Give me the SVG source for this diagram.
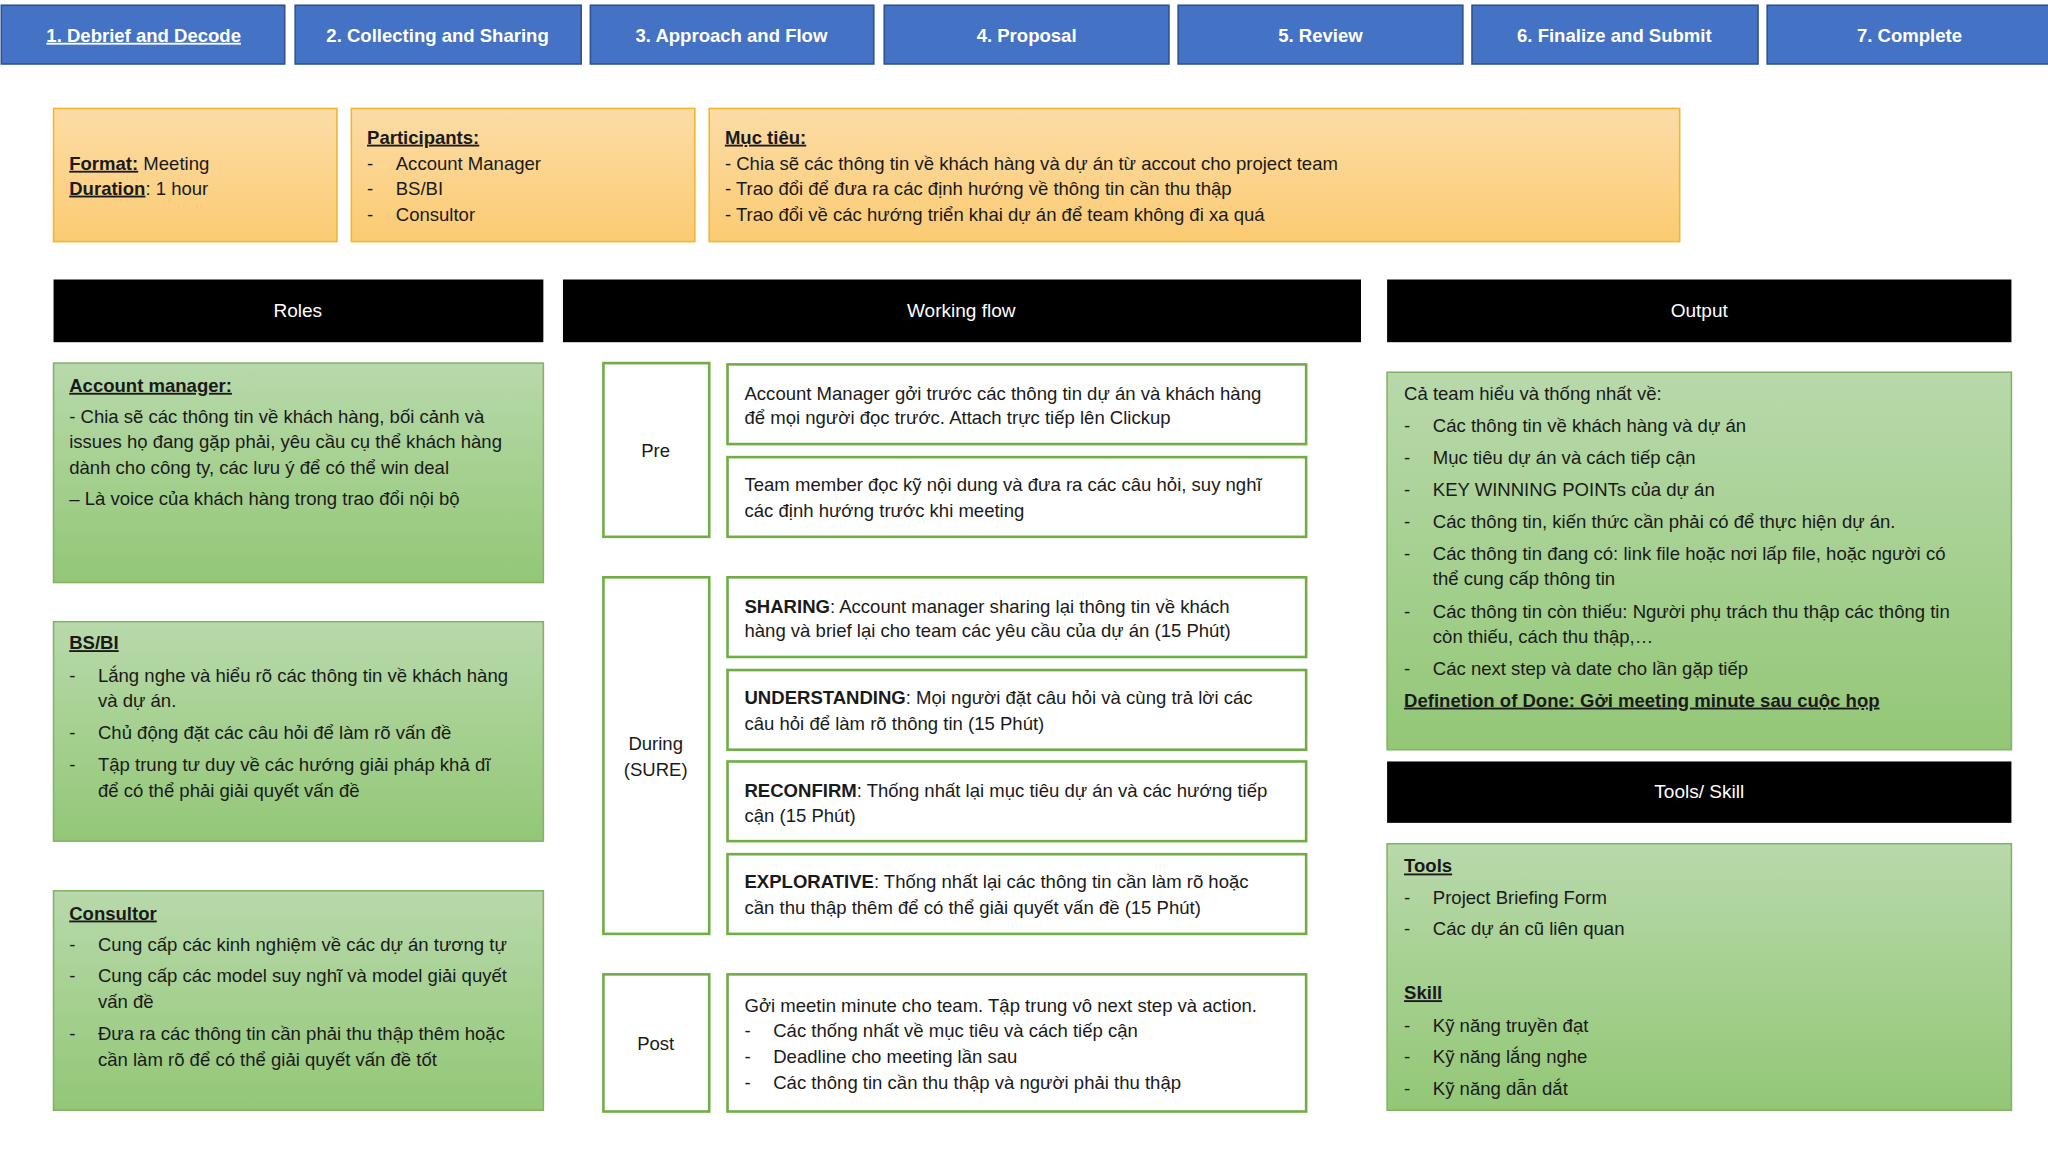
<svg xmlns="http://www.w3.org/2000/svg" width="2048" height="1152" viewBox="0 0 2048 1152">
<defs>
<linearGradient id="gg" x1="0" y1="0" x2="0" y2="1"><stop offset="0" stop-color="#b8d9ab"/><stop offset="1" stop-color="#93c776"/></linearGradient>
<linearGradient id="og" x1="0" y1="0" x2="0" y2="1"><stop offset="0" stop-color="#fcdca6"/><stop offset="1" stop-color="#fbcb72"/></linearGradient>
<style>
text{font-family:"Liberation Sans",Arial,sans-serif;font-size:14.2px;fill:#1a1a1a}
.tab rect{fill:#4472c4;stroke:#2f528f;stroke-width:1.2}
.tab text{fill:#fff;font-weight:bold;font-size:14.2px;text-anchor:middle}
.hd rect{fill:#000}
.hd text{fill:#fff;text-anchor:middle;font-size:14.6px}
.gr{fill:url(#gg);stroke:#82b366;stroke-width:1.2}
.or{fill:url(#og);stroke:#f2b530;stroke-width:1.2}
.wf{fill:#fff;stroke:#70ad47;stroke-width:2}
.b{font-weight:bold}
.u{text-decoration:underline}
.c{text-anchor:middle}
</style>
</defs>
<rect width="2048" height="1152" fill="#fff"/>
<g transform="scale(1.30612)">
<g id="tabs">
<g class="tab" id="tab1"><rect x="1" y="4" width="217" height="45"/><text x="110" y="32" class="u">1. Debrief and Decode</text></g>
<g class="tab" id="tab2"><rect x="226" y="4" width="219" height="45"/><text x="335" y="32">2. Collecting and Sharing</text></g>
<g class="tab" id="tab3"><rect x="452" y="4" width="217" height="45"/><text x="560" y="32">3. Approach and Flow</text></g>
<g class="tab" id="tab4"><rect x="677" y="4" width="218" height="45"/><text x="786" y="32">4. Proposal</text></g>
<g class="tab" id="tab5"><rect x="902" y="4" width="218" height="45"/><text x="1011" y="32">5. Review</text></g>
<g class="tab" id="tab6"><rect x="1127" y="4" width="219" height="45"/><text x="1236" y="32">6. Finalize and Submit</text></g>
<g class="tab" id="tab7"><rect x="1353" y="4" width="216" height="45"/><text x="1462" y="32">7. Complete</text></g>
</g>
<g id="format"><rect class="or" x="41" y="83" width="217" height="102"/>
<text x="53" y="130"><tspan class="b u">Format:</tspan> Meeting</text>
<text x="53" y="149"><tspan class="b u">Duration</tspan>: 1 hour</text></g>
<g id="participants"><rect class="or" x="269" y="83" width="263" height="102"/>
<text x="281" y="110" class="b u">Participants:</text>
<text x="281" y="130">-</text><text x="303" y="130">Account Manager</text>
<text x="281" y="149">-</text><text x="303" y="149">BS/BI</text>
<text x="281" y="169">-</text><text x="303" y="169">Consultor</text></g>
<g id="muctieu"><rect class="or" x="543" y="83" width="743" height="102"/>
<text x="555" y="110" class="b u">Mục tiêu:</text>
<text x="555" y="130">- Chia sẽ các thông tin về khách hàng và dự án từ accout cho project team</text>
<text x="555" y="149">- Trao đổi để đưa ra các định hướng về thông tin cần thu thập</text>
<text x="555" y="169">- Trao đổi về các hướng triển khai dự án để team không đi xa quá</text></g>
<g id="headers">
<g class="hd" id="h-roles"><rect x="41" y="214" width="375" height="48"/><text x="228" y="243">Roles</text></g>
<g class="hd" id="h-flow"><rect x="431" y="214" width="611" height="48"/><text x="736" y="243">Working flow</text></g>
<g class="hd" id="h-output"><rect x="1062" y="214" width="478" height="48"/><text x="1301" y="243">Output</text></g>
<g class="hd" id="h-tools"><rect x="1062" y="583" width="478" height="47"/><text x="1301" y="611">Tools/ Skill</text></g>
</g>
<g id="am"><rect class="gr" x="41" y="278" width="375" height="168"/>
<text x="53" y="300" class="b u">Account manager:</text>
<text x="53" y="324">- Chia sẽ các thông tin về khách hàng, bối cảnh và</text>
<text x="53" y="343">issues họ đang gặp phải, yêu cầu cụ thể khách hàng</text>
<text x="53" y="363">dành cho công ty, các lưu ý để có thể win deal</text>
<text x="53" y="387">– Là voice của khách hàng trong trao đổi nội bộ</text></g>
<g id="bsbi"><rect class="gr" x="41" y="476" width="375" height="168"/>
<text x="53" y="497" class="b u">BS/BI</text>
<text x="53" y="522">-</text><text x="75" y="522">Lắng nghe và hiểu rõ các thông tin về khách hàng</text>
<text x="75" y="541">và dự án.</text>
<text x="53" y="566">-</text><text x="75" y="566">Chủ động đặt các câu hỏi để làm rõ vấn đề</text>
<text x="53" y="590">-</text><text x="75" y="590">Tập trung tư duy về các hướng giải pháp khả dĩ</text>
<text x="75" y="610">để có thể phải giải quyết vấn đề</text></g>
<g id="consultor"><rect class="gr" x="41" y="682" width="375" height="168"/>
<text x="53" y="704" class="b u">Consultor</text>
<text x="53" y="728">-</text><text x="75" y="728">Cung cấp các kinh nghiệm về các dự án tương tự</text>
<text x="53" y="752">-</text><text x="75" y="752">Cung cấp các model suy nghĩ và model giải quyết</text>
<text x="75" y="772">vấn đề</text>
<text x="53" y="796">-</text><text x="75" y="796">Đưa ra các thông tin cần phải thu thập thêm hoặc</text>
<text x="75" y="816">cần làm rõ để có thể giải quyết vấn đề tốt</text></g>
<g id="pre"><rect class="wf" x="462" y="278" width="81" height="133"/><text x="502" y="350" class="c">Pre</text></g>
<g id="during"><rect class="wf" x="462" y="442" width="81" height="273"/><text x="502" y="574" class="c">During</text><text x="502" y="594" class="c">(SURE)</text></g>
<g id="post"><rect class="wf" x="462" y="746" width="81" height="105"/><text x="502" y="804" class="c">Post</text></g>
<g id="pre1"><rect class="wf" x="557" y="279" width="443" height="61"/>
<text x="570" y="306">Account Manager gởi trước các thông tin dự án và khách hàng</text>
<text x="570" y="325">để mọi người đọc trước. Attach trực tiếp lên Clickup</text></g>
<g id="pre2"><rect class="wf" x="557" y="350" width="443" height="61"/>
<text x="570" y="376">Team member đọc kỹ nội dung và đưa ra các câu hỏi, suy nghĩ</text>
<text x="570" y="396">các định hướng trước khi meeting</text></g>
<g id="sharing"><rect class="wf" x="557" y="442" width="443" height="61"/>
<text x="570" y="469"><tspan class="b">SHARING</tspan>: Account manager sharing lại thông tin về khách</text>
<text x="570" y="488">hàng và brief lại cho team các yêu cầu của dự án (15 Phút)</text></g>
<g id="understanding"><rect class="wf" x="557" y="513" width="443" height="61"/>
<text x="570" y="539"><tspan class="b">UNDERSTANDING</tspan>: Mọi người đặt câu hỏi và cùng trả lời các</text>
<text x="570" y="559">câu hỏi để làm rõ thông tin (15 Phút)</text></g>
<g id="reconfirm"><rect class="wf" x="557" y="583" width="443" height="61"/>
<text x="570" y="610"><tspan class="b">RECONFIRM</tspan>: Thống nhất lại mục tiêu dự án và các hướng tiếp</text>
<text x="570" y="629">cận (15 Phút)</text></g>
<g id="explorative"><rect class="wf" x="557" y="654" width="443" height="61"/>
<text x="570" y="680"><tspan class="b">EXPLORATIVE</tspan>: Thống nhất lại các thông tin cần làm rõ hoặc</text>
<text x="570" y="700">cần thu thập thêm để có thể giải quyết vấn đề (15 Phút)</text></g>
<g id="postbox"><rect class="wf" x="557" y="746" width="443" height="105"/>
<text x="570" y="775">Gởi meetin minute cho team. Tập trung vô next step và action.</text>
<text x="570" y="794">-</text><text x="592" y="794">Các thống nhất về mục tiêu và cách tiếp cận</text>
<text x="570" y="814">-</text><text x="592" y="814">Deadline cho meeting lần sau</text>
<text x="570" y="834">-</text><text x="592" y="834">Các thông tin cần thu thập và người phải thu thập</text></g>
<g id="output"><rect class="gr" x="1062" y="285" width="478" height="289"/>
<text x="1075" y="306">Cả team hiểu và thống nhất về:</text>
<text x="1075" y="331">-</text><text x="1097" y="331">Các thông tin về khách hàng và dự án</text>
<text x="1075" y="355">-</text><text x="1097" y="355">Mục tiêu dự án và cách tiếp cận</text>
<text x="1075" y="380">-</text><text x="1097" y="380">KEY WINNING POINTs của dự án</text>
<text x="1075" y="404">-</text><text x="1097" y="404">Các thông tin, kiến thức cần phải có để thực hiện dự án.</text>
<text x="1075" y="429">-</text><text x="1097" y="429">Các thông tin đang có: link file hoặc nơi lấp file, hoặc người có</text>
<text x="1097" y="448">thể cung cấp thông tin</text>
<text x="1075" y="473">-</text><text x="1097" y="473">Các thông tin còn thiếu:  Người phụ trách thu thập các thông tin</text>
<text x="1097" y="492">còn thiếu, cách thu thập,…</text>
<text x="1075" y="517">-</text><text x="1097" y="517">Các next step và date cho lần gặp tiếp</text>
<text x="1075" y="541" class="b u">Definetion of Done: Gởi meeting minute sau cuộc họp</text></g>
<g id="tools"><rect class="gr" x="1062" y="646" width="478" height="204"/>
<text x="1075" y="668" class="b u">Tools</text>
<text x="1075" y="692">-</text><text x="1097" y="692">Project Briefing Form</text>
<text x="1075" y="716">-</text><text x="1097" y="716">Các dự án cũ liên quan</text>
<text x="1075" y="765" class="b u">Skill</text>
<text x="1075" y="790">-</text><text x="1097" y="790">Kỹ năng truyền đạt</text>
<text x="1075" y="814">-</text><text x="1097" y="814">Kỹ năng lắng nghe</text>
<text x="1075" y="838">-</text><text x="1097" y="838">Kỹ năng dẫn dắt</text></g>
<g id="connectors"/>
</g>
</svg>
